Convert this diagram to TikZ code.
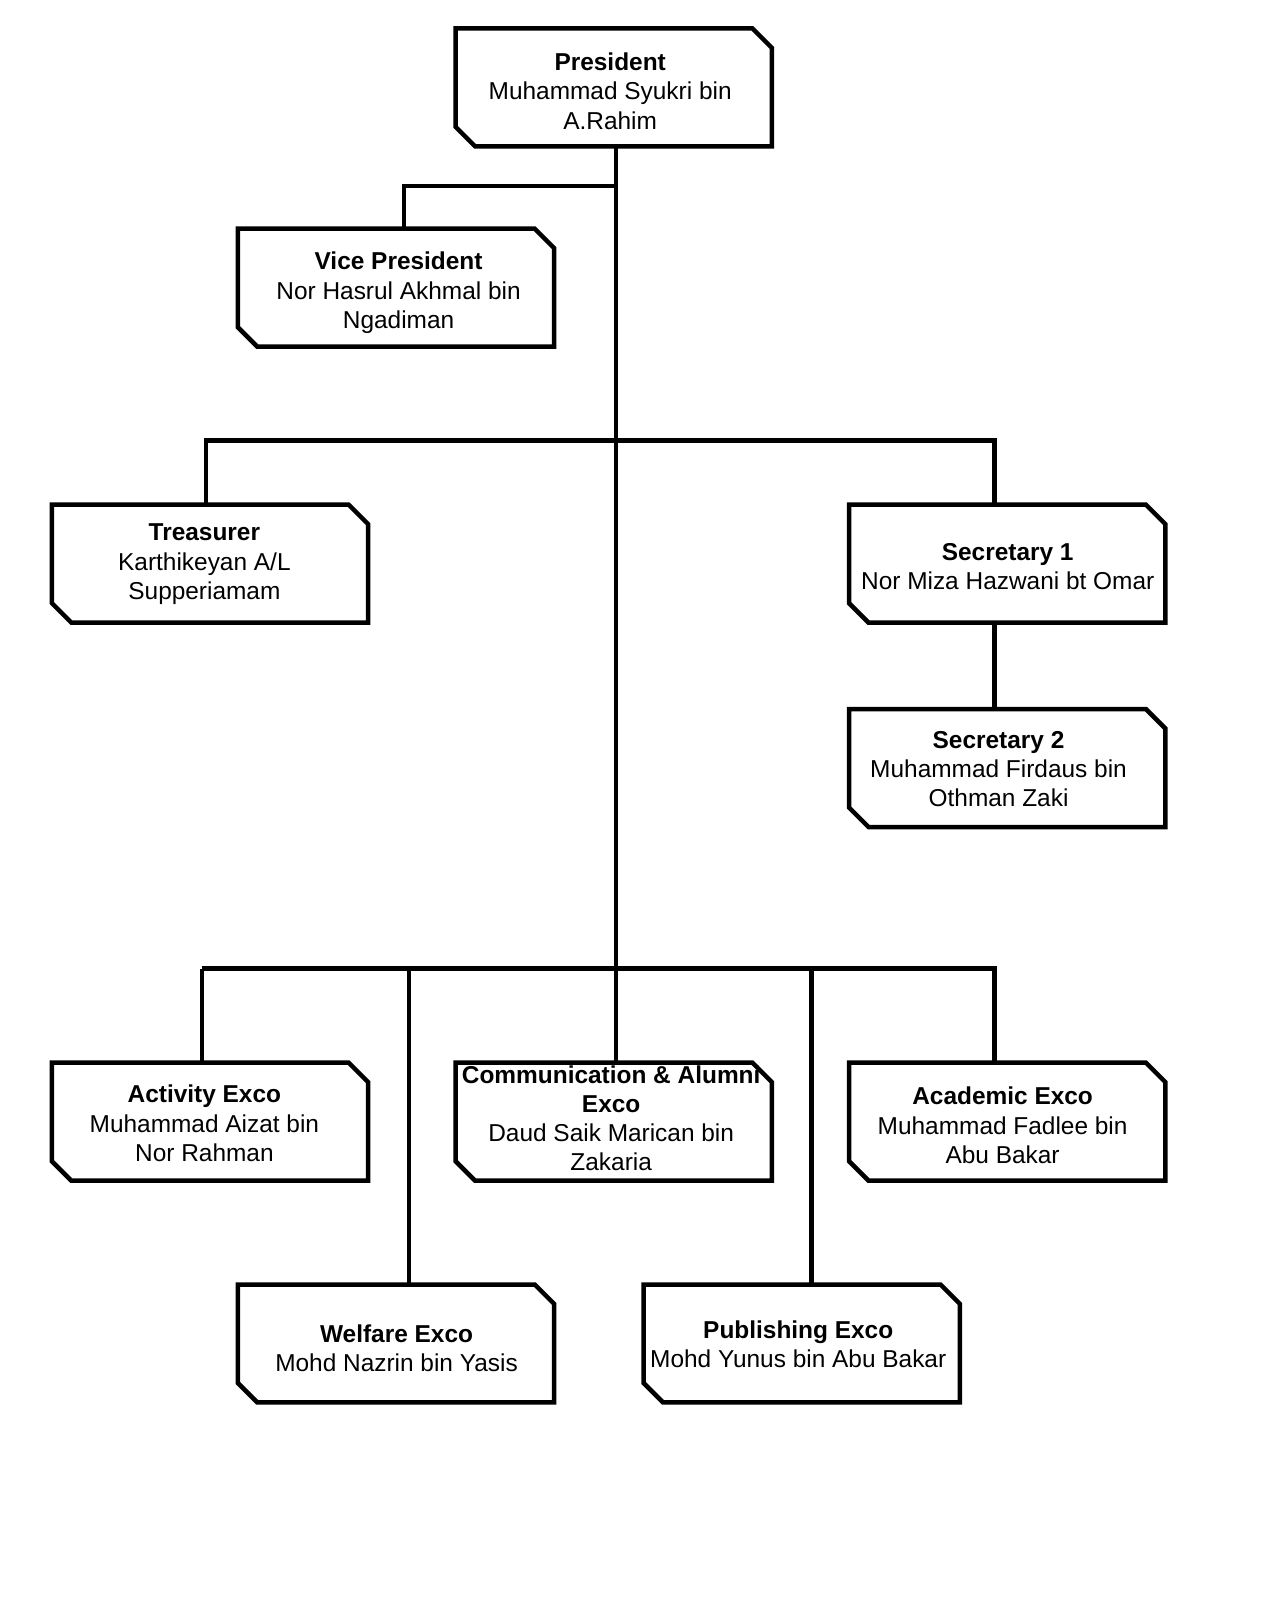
\documentclass[tikz,border=0pt]{standalone}
\usepackage{fontspec}
\setmainfont{Liberation Sans}
\newcommand\orgbox[6]{%
  \node[orgshape] (#1) at (#2,#3) {};
  \draw[boxline] (#1.north west) -- ([xshift=-19pt]#1.north east) -- ([yshift=-19pt]#1.north east)
     -- (#1.south east) -- ([xshift=19pt]#1.south west) -- ([yshift=19pt]#1.south west) -- cycle;
  \node[orgtext] (#1-t) at (#4,#5) {#6};
}
\begin{document}
\begin{tikzpicture}[x=1pt,y=-1pt,
  orgshape/.style={rectangle, draw=none, inner sep=0pt, minimum width=309pt, minimum height=115pt},
  boxline/.style={line width=4.4pt, line join=miter, draw=black, fill=white},
  orgtext/.style={align=center, inner sep=0pt, font=\fontsize{23.9}{28.6}\selectfont},
  conn/.style={line width=4pt, draw=black},
  bus/.style={line width=5pt, draw=black}]
\fill[white] (0,0) rectangle (1252.4,1565.5);
\useasboundingbox (0,0) rectangle (1252.4,1565.5);

% junction coordinates
\coordinate (b0) at (603,182);
\coordinate (vpj) at (395,182);
\coordinate (b1L) at (200,431);
\coordinate (b1R) at (975,431);
\coordinate (b2L) at (198,948);
\coordinate (b2R) at (975,948);
\coordinate (b2C) at (603,948);
\coordinate (t1) at (202,431);
\coordinate (t2) at (973,431);
\coordinate (e1) at (198,948);
\coordinate (e2) at (400,948);
\coordinate (e3) at (603,948);
\coordinate (e4) at (794,948);
\coordinate (e5) at (973,948);

% boxes
\orgbox{pres}{600.5}{85.5}{597}{92}{\textbf{President}\strut\\Muhammad Syukri bin\strut\\A.Rahim\strut}
\orgbox{vp}{387.5}{281.5}{390}{287}{\textbf{Vice President}\strut\\Nor Hasrul Akhmal bin\strut\\Ngadiman\strut}
\orgbox{treas}{205.5}{551.5}{200}{552}{\textbf{Treasurer}\strut\\Karthikeyan A/L\strut\\Supperiamam\strut}
\orgbox{sec1}{985.5}{551.5}{986}{557}{\textbf{Secretary 1}\strut\\Nor Miza Hazwani bt Omar\strut}
\orgbox{sec2}{985.5}{751.5}{977}{755}{\textbf{Secretary 2}\strut\\Muhammad Firdaus bin\strut\\Othman Zaki\strut}
\orgbox{act}{205.5}{1097.5}{200}{1102}{\textbf{Activity Exco}\strut\\Muhammad Aizat bin\strut\\Nor Rahman\strut}
\orgbox{comm}{600.5}{1097.5}{598}{1097}{\textbf{Communication \& Alumni}\strut\\\textbf{Exco}\strut\\Daud Saik Marican bin\strut\\Zakaria\strut}
\orgbox{acad}{985.5}{1097.5}{981}{1104}{\textbf{Academic Exco}\strut\\Muhammad Fadlee bin\strut\\Abu Bakar\strut}
\orgbox{welf}{387.5}{1314.5}{388}{1322}{\textbf{Welfare Exco}\strut\\Mohd Nazrin bin Yasis\strut}
\orgbox{pub}{784.5}{1314.5}{781}{1318}{\textbf{Publishing Exco}\strut\\Mohd Yunus bin Abu Bakar\strut}

% connectors
\draw[conn] (pres.south -| b0) -- (b2C);
\draw[conn] (b0) -- (vpj) -- (vpj |- vp.north);
\draw[bus] (b1L) -- (b1R);
\draw[conn] (t1) -- (t1 |- treas.north);
\draw[conn] (t2) -- (t2 |- sec1.north);
\draw[conn] (sec1.south -| t2) -- (sec2.north -| t2);
\draw[bus] (b2L) -- (b2R);
\draw[conn] (e1) -- (e1 |- act.north);
\draw[conn] (e2) -- (e2 |- welf.north);
\draw[conn] (e3) -- (e3 |- comm.north);
\draw[conn] (e4) -- (e4 |- pub.north);
\draw[conn] (e5) -- (e5 |- acad.north);
\end{tikzpicture}
\end{document}
